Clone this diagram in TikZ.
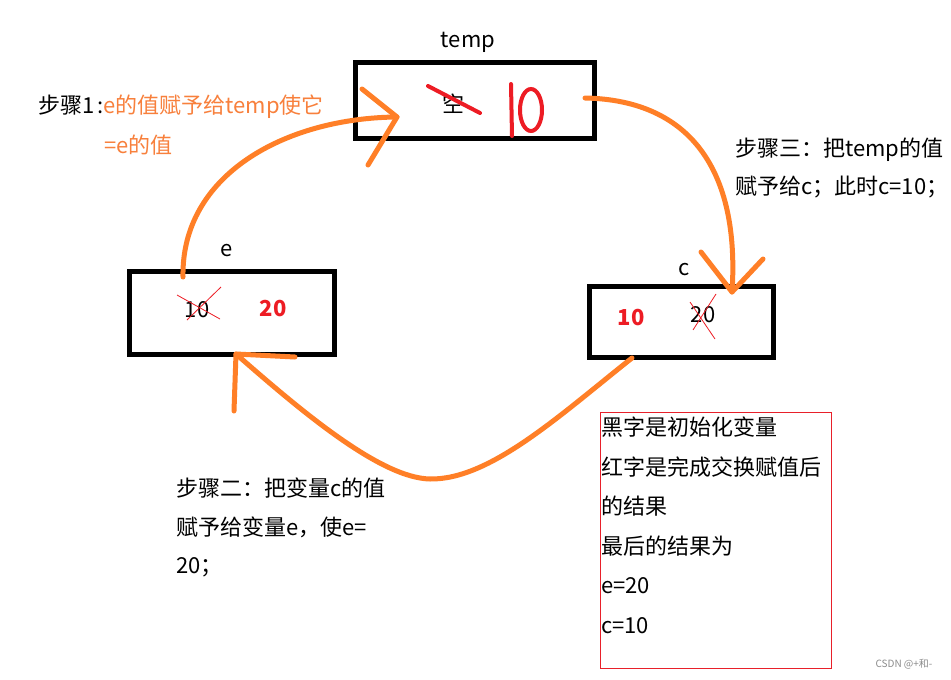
\documentclass[tikz,border=0pt]{standalone}
\usepackage{fontspec}
\setmainfont{Noto Sans CJK SC}
\definecolor{arrorange}{RGB}{255,127,39}
\definecolor{txtorange}{RGB}{248,128,60}
\definecolor{pred}{RGB}{237,28,36}
\definecolor{legred}{RGB}{232,32,42}
\begin{document}
\begin{tikzpicture}[x=1pt,y=-1pt,
  box/.style={draw=black,line width=5pt,inner sep=0pt},
  lbl/.style={font=\fontsize{22}{26}\selectfont,inner sep=0pt,anchor=west,text height=19.4pt,text depth=2.6pt},
  cen/.style={font=\fontsize{22}{26}\selectfont,inner sep=0pt},
  rednum/.style={font=\fontsize{22}{26}\selectfont\bfseries,text=pred,inner sep=0pt},
  arr/.style={draw=arrorange,line width=5pt,line cap=round,line join=round},
  cross/.style={draw=pred,line width=0.8pt}]
\useasboundingbox (0,0) rectangle (951,680);
\fill[white] (0,0) rectangle (951,680);

% boxes
\node[box,minimum width=239pt,minimum height=76pt] (tempbox) at (475,100.5) {};
\node[box,minimum width=205pt,minimum height=83pt] (ebox) at (232,313) {};
\node[box,minimum width=184pt,minimum height=71pt] (cbox) at (681.5,322) {};
\node[draw=legred,line width=1pt,inner sep=0pt,minimum width=231pt,minimum height=256pt] (legend) at (715.5,540) {};

% labels above boxes
\node[cen] (templbl) at (468,42) {temp};
\node[cen] (elbl) at (227,251) {e};
\node[cen] (clbl) at (684,270) {c};

% temp contents
\node[cen] (kong) at (453,104) {空};
\draw[draw=pred,line width=4pt,line cap=round] (428,86) -- (480,113);
\draw[draw=pred,line width=4pt,line cap=round] (511,84) -- (512,136);
\draw[draw=pred,line width=4pt] (531,110) ellipse [x radius=11pt,y radius=21pt];

% e contents
\node[cen] (eold) at (197,310) {10};
\draw[cross] (177,295) -- (220,319);
\draw[cross] (187,320) -- (221,287);
\node[rednum] (enew) at (273,309) {20};

% c contents
\node[rednum] (cnew) at (631,318) {10};
\node[cen] (cold) at (703,315) {20};
\draw[cross] (690,302) -- (715,339);
\draw[cross] (693,330) -- (716,294);

% step texts
\node[lbl] (s1a) at (38,105) {步骤1\hspace{3pt}:\textcolor{txtorange}{e的值赋予给temp使它}};
\node[lbl,text=txtorange] (s1b) at (104,145) {=e的值};
\node[lbl] (s3a) at (735,148) {步骤三：把temp的值};
\node[lbl] (s3b) at (735,186) {赋予给c；此时c=10；};
\node[lbl] (s2a) at (176,488) {步骤二：把变量c的值};
\node[lbl] (s2b) at (176,527) {赋予给变量e，使e=};
\node[lbl] (s2c) at (176,565) {20；};

% legend text
\node[lbl] (l1) at (601,427) {黑字是初始化变量};
\node[lbl] (l2) at (601,467) {红字是完成交换赋值后};
\node[lbl] (l3) at (601,506) {的结果};
\node[lbl] (l4) at (601,546) {最后的结果为};
\node[lbl] (l5) at (601,585) {e=20};
\node[lbl] (l6) at (601,625) {c=10};

% watermark
\node[font=\fontsize{10}{12}\selectfont,text=black!45,inner sep=0pt] (wm) at (904,664) {CSDN @+和-};

% arrow endpoints
\coordinate (a1s) at (183,277);
\coordinate (a1t) at (397,117);
\coordinate (a1h1) at (362,89);
\coordinate (a1h2) at (368,165);
\coordinate (a3s) at (585,98);
\coordinate (a3t) at (732,292);
\coordinate (a3h1) at (701,252);
\coordinate (a3h2) at (763,259);
\coordinate (a2s) at (632,358);
\coordinate (a2m) at (430,479);
\coordinate (a2t) at (236,354);
\coordinate (a2h1) at (295,357);
\coordinate (a2h2) at (234,411);

% step 1: e -> temp
\draw[arr] (a1s) .. controls (181,175) and (285,118) .. (a1t);
\draw[arr] (a1h1) -- (a1t) -- (a1h2);
% step 3: temp -> c
\draw[arr] (a3s) .. controls (690,100) and (740,170) .. (a3t);
\draw[arr] (a3h1) -- (a3t) -- (a3h2);
% step 2: c -> e
\draw[arr] (a2s) .. controls (560,415) and (490,480) .. (a2m) .. controls (380,478) and (300,410) .. (a2t);
\draw[arr] (a2h1) -- (a2t) -- (a2h2);
\end{tikzpicture}
\end{document}
